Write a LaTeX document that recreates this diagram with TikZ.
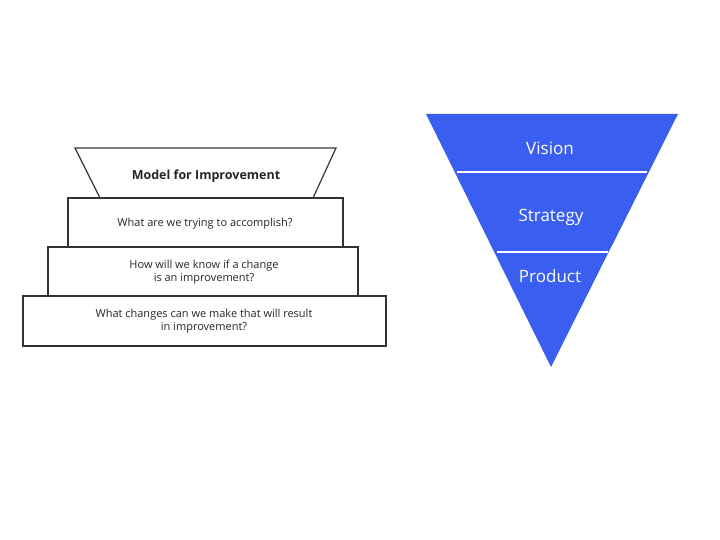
\documentclass[tikz,border=0pt]{standalone}
\usepackage{fontspec}
\setmainfont{Open Sans}
\begin{document}
\begin{tikzpicture}[x=1pt,y=-1pt,
  box/.style={draw=black!80,line width=1.2pt,fill=white},
  bt/.style={font=\fontsize{11}{13}\selectfont,align=center,text=black!85},
  wt/.style={font=\fontsize{17}{20}\selectfont,text=white}]
\useasboundingbox (0,0) rectangle (720,540);
\fill[white] (0,0) rectangle (720,540);
\draw[box] (75,148) -- (336,148) -- (313,198) -- (100,198) -- cycle;
\node[bt,font=\bfseries\fontsize{12.5}{14}\selectfont] (t) at (206,176) {Model for Improvement};
\draw[box] (68,198) rectangle (343,247);
\node[bt] (q1) at (205,224) {What are we trying to accomplish?};
\draw[box] (48,247) rectangle (358,296);
\node[bt] (q2) at (204,272) {How will we know if a change\\is an improvement?};
\draw[box] (23,296) rectangle (386,346);
\node[bt] (q3) at (204,321) {What changes can we make that will result\\in improvement?};
\fill[fill={rgb,255:red,58;green,94;blue,240}] (426,114) -- (678,114) -- (551,367) -- cycle;
\draw[white,line width=1.2pt] (457,172) -- (647,172);
\draw[white,line width=1.2pt] (497,252) -- (608,252);
\node[wt] (v) at (550,148) {Vision};
\node[wt] (s) at (551,217) {Strategy};
\node[wt] (p) at (550,276) {Product};
\end{tikzpicture}
\end{document}
